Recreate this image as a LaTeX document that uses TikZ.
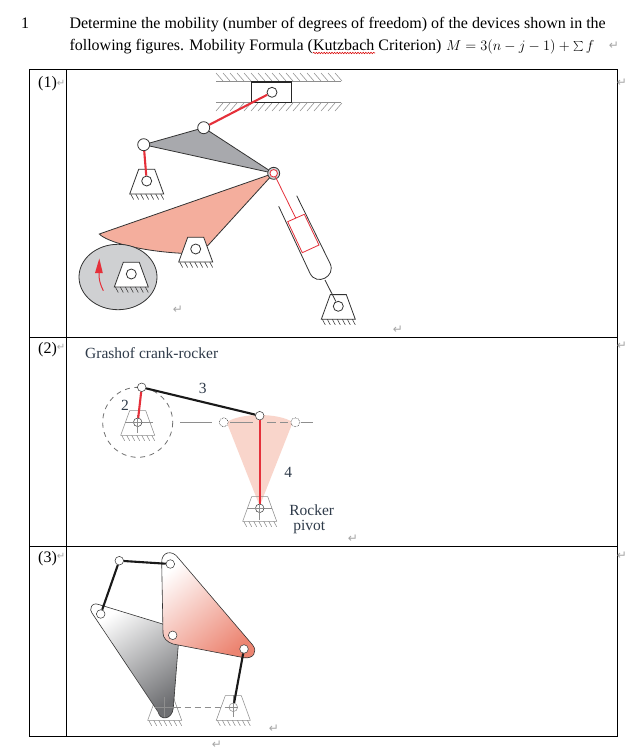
\documentclass[tikz,border=0pt]{standalone}
\usepackage{fontspec}
\setmainfont{Liberation Serif}
\newfontfamily\markfont{DejaVu Sans}
\usetikzlibrary{decorations.pathmorphing}
\definecolor{linkred}{HTML}{E5303A}
\definecolor{plategray}{HTML}{A8A9AD}
\definecolor{platesalmon}{HTML}{F4AE9D}
\definecolor{discgray}{HTML}{CFD0D2}
\definecolor{fanpink}{HTML}{F9D5CB}
\definecolor{ink}{HTML}{333333}
\definecolor{softgray}{HTML}{8E8E8E}
\definecolor{captionink}{HTML}{2F3B4A}
\definecolor{coral}{HTML}{EC8471}
\definecolor{slate}{HTML}{6E6F72}
\tikzset{
  body/.style={font=\fontsize{16}{18}\selectfont,inner sep=0pt,anchor=base west},
  formula/.style={font=\fontsize{15.3}{18}\selectfont,inner sep=0pt,anchor=base west},
  caption/.style={font=\fontsize{15.5}{17}\selectfont,inner sep=0pt,text=captionink},
  parmark/.style={font=\markfont\fontsize{12}{13}\selectfont,inner sep=0pt,text=gray!70},
  parmarksmall/.style={font=\markfont\fontsize{10}{11}\selectfont,inner sep=0pt,text=gray!70},
  cell/.style={draw=black,line width=0.9pt},
  pinA/.style={circle,draw=ink,fill=white,line width=0.8pt,minimum size=10pt,inner sep=0pt},
  jointA/.style={circle,draw=ink,fill=white,line width=0.8pt,minimum size=12pt,inner sep=0pt},
  jointB/.style={circle,draw=ink,fill=white,line width=0.5pt,minimum size=8.6pt,inner sep=0pt},
  jointC/.style={circle,draw=softgray,fill=white,line width=0.5pt,minimum size=8.6pt,inner sep=0pt},
  ghost/.style={circle,draw=ink,densely dotted,fill=white,line width=0.6pt,minimum size=9pt,inner sep=0pt},
  redlink/.style={draw=linkred,line width=2.1pt},
  blacklink/.style={draw=black!90,line width=2.1pt},
  thinred/.style={draw=linkred,line width=0.8pt},
  centerline/.style={draw=softgray,line width=0.6pt},
}
% pivot: name, x, y of pin; trapezoid style; pin style
\newcommand{\pivotbase}[5]{%
  \draw[#4] ({#2-8},{#3-11.7}) -- ({#2+8},{#3-11.7}) -- ({#2+17},{#3+13}) -- ({#2-17},{#3+13}) -- cycle;
  \foreach \hx in {-16,-11,...,14}{\draw[#4,line width=0.55pt] ({#2+\hx},{#3+13}) -- ({#2+\hx+3},{#3+18.5});}
  \node[#5] (#1) at (#2,#3) {};
}
\newcommand{\crosspin}[1]{%
  \draw[softgray,line width=0.5pt] ([xshift=-4.3pt]#1.center) -- ([xshift=4.3pt]#1.center) ([yshift=-4.3pt]#1.center) -- ([yshift=4.3pt]#1.center);
}
\begin{document}
\begin{tikzpicture}[x=1pt,y=-1pt]
\useasboundingbox (0,0) rectangle (629,753);
\fill[white] (0,0) rectangle (629,753);
% heading
\node[body] (num) at (21,28) {1};
\node[body] (l1) at (69.3,28) {Determine the mobility (number of degrees of freedom) of the devices shown in the};
\node[body] (l2) at (69.3,50) {following figures. Mobility Formula (Kutzbach Criterion)};
\node[formula] (l2m) at (446,50) {$M=3(n-j-1)+\sum f$};
\draw[red!85!black,line width=0.55pt,decorate,decoration={snake,amplitude=0.7pt,segment length=2.6pt}] (313,53) -- (375,53);
\node[parmark] (m0) at (614,46) {↵};
% table
\draw[cell] (29,69) rectangle (617,736);
\draw[cell] (66,69) -- (66,736);
\draw[cell] (29,337) -- (617,337);
\draw[cell] (29,546) -- (617,546);
\node[body] (c1) at (38,87) {(1)};
\node[body] (c2) at (38,353) {(2)};
\node[body] (c3) at (38,562) {(3)};
\node[parmarksmall] (m1) at (61,83) {↵};
\node[parmarksmall] (m2) at (61,347) {↵};
\node[parmarksmall] (m3) at (61,556) {↵};
\node[parmark] (m4) at (622,83) {↵};
\node[parmark] (m5) at (622,346) {↵};
\node[parmark] (m6) at (622,556) {↵};
\node[parmark] (m7) at (178,310) {↵};
\node[parmark] (m8) at (398,330) {↵};
\node[parmark] (m9) at (353,539) {↵};
\node[parmark] (m10) at (274,729) {↵};
\node[parmark] (m11) at (217,745) {↵};

% ---------- figure 1 ----------
\draw[softgray,line width=0.8pt] (216,81.5) -- (341,81.5);
\draw[softgray,line width=0.8pt] (216,102.7) -- (341,102.7);
\foreach \hx in {216,223,...,335}{
  \draw[softgray,line width=0.55pt] (\hx,73) -- (\hx+7,81);
  \draw[softgray,line width=0.55pt] (\hx+7,103) -- (\hx,111);
}
\draw[black!85,line width=1.1pt,fill=white] (251.7,82) rectangle (291.3,102.3);
% plates
\coordinate (Bc) at (203.7,127.7);
\coordinate (Ac) at (143.7,144.7);
\coordinate (Cc) at (273.7,173.3);
\draw[ink,line width=0.8pt,fill=plategray] (Ac) -- (Bc) -- (Cc) -- cycle;
\draw[ink,line width=0.8pt,fill=platesalmon] (99.3,234) -- (Cc) -- (207.7,245.7) -- (181.7,253.3) .. controls (140,251) and (107,242) .. (99.3,234) -- cycle;
\draw[ink,line width=0.8pt,fill=discgray] (118,277) ellipse [x radius=39,y radius=32.7];
% pivots
\pivotbase{p1}{146.7}{181}{draw=ink,fill=white,line width=0.8pt}{pinA}
\pivotbase{p2}{195.7}{249}{draw=ink,fill=white,line width=0.8pt}{pinA}
\pivotbase{p3}{131.3}{274}{draw=ink,fill=white,line width=0.8pt}{pinA}
\pivotbase{p4}{338.3}{306.3}{draw=ink,fill=white,line width=0.8pt}{pinA}
\node[pinA] (slider) at (272,92.3) {};
\node[jointA] (jB) at (Bc) {};
\node[jointA] (jA) at (Ac) {};
\node[jointA,fill=discgray] (jC) at (Cc) {};
\node[circle,draw=linkred,fill=white,line width=0.8pt,minimum size=7.5pt,inner sep=0pt] (jCi) at (Cc) {};
\draw[redlink] (jB) -- (slider);
\draw[redlink] (jA) -- (p1);
% cylinder
\coordinate (capL) at (310,273.3);
\coordinate (capR) at (330,263.3);
\coordinate (capB) at (325,280);
\draw[ink,line width=0.8pt] (278.7,206.3) -- (capL) .. controls (316.4,286.5) and (336.4,276.5) .. (capR) -- (296.7,195.7);
\draw[ink,line width=0.8pt] (capB) -- (p4);
\coordinate (pistonTop) at (295.7,218);
\draw[thinred] (jCi) -- (pistonTop);
\draw[thinred] (287.7,221.7) -- (304.3,214.3) -- (319,245) -- (302.3,252.7) -- cycle;
% arrow on disc
\coordinate (arS) at (103.3,290.7);
\coordinate (arE) at (99,273);
\draw[linkred,line width=1pt] (arS) .. controls (100,284) and (98.8,279) .. (arE);
\fill[linkred] (99.3,258.5) -- (102.8,273) -- (95,273) -- cycle;

% ---------- figure 2 ----------
\node[caption,anchor=base west] (gr) at (85,358.5) {Grashof crank-rocker};
\coordinate (fanL) at (226.7,422.3);
\coordinate (fanR) at (292.7,422.3);
\coordinate (fanP) at (259.7,506);
\fill[fanpink] (fanL) .. controls (240,412.6) and (279,412.6) .. (fanR) -- (fanP) -- cycle;
\draw[softgray!80!black,line width=0.8pt,dash pattern=on 5pt off 4.5pt] (137.7,422.3) circle [radius=35];
\draw[centerline] (125,422.3) -- (153,422.3) (180,422.3) -- (212,422.3) (230,422.3) -- (253,422.3) (267,422.3) -- (276,422.3) (280,422.3) -- (288,422.3) (301,422.3) -- (313.3,422.3);
\draw[centerline] (137.7,415) -- (137.7,433) (259.7,498) -- (259.7,520) (247,508.3) -- (272,508.3);
\pivotbase{q1}{137.7}{422.3}{draw=softgray,line width=0.55pt}{jointB}
\pivotbase{q2}{259.7}{508.3}{draw=softgray,line width=0.55pt}{jointB}
\crosspin{q1}
\crosspin{q2}
\node[jointB] (qA) at (141.7,387.3) {};
\node[jointB] (qB) at (259.7,415.7) {};
\node[ghost] (g1) at (223.7,422.3) {};
\node[ghost] (g2) at (295.3,422.3) {};
\draw[redlink] (q1) -- (qA);
\draw[redlink] (q2) -- (qB);
\draw[blacklink] (qA) -- (qB);
\node[caption] (n3) at (202.7,388.7) {3};
\node[caption] (n2) at (125,405.7) {2};
\node[caption] (n4) at (288.3,472.7) {4};
\node[caption] (r1) at (311.7,510) {Rocker};
\node[caption] (r2) at (309.3,526.7) {pivot};

% ---------- figure 3 ----------
\draw[softgray,line width=0.6pt,dash pattern=on 6pt off 4pt] (164.7,707.3) -- (233.3,707.3);
\pivotbase{s1}{164.7}{707.3}{draw=softgray,line width=0.55pt}{jointC}
\pivotbase{s2}{233.3}{707.3}{draw=softgray,line width=0.55pt}{jointC}
\draw[softgray,line width=0.5pt] (233.3,695) -- (233.3,717);
\shade[top color=white,bottom color=slate,shading angle=35] (90.7,610) .. controls (90.7,604) and (95,603) .. (98.7,604.5) -- (162.7,624) -- (178.3,645) -- (173.3,708) .. controls (172,720) and (160,721) .. (158.3,711.7) -- (92,613) -- cycle;
\draw[ink,line width=0.6pt] (90.7,610) .. controls (90.7,604) and (95,603) .. (98.7,604.5) -- (162.7,624) -- (178.3,645) -- (173.3,708) .. controls (172,720) and (160,721) .. (158,711.7) -- (92,613) .. controls (91,612) and (90.7,611) .. (90.7,610) -- cycle;
\draw[softgray,line width=0.5pt] (164.7,697) -- (164.7,717) (155,707.3) -- (175,707.3);
\crosspin{s2}
\shade[top color=white,bottom color=coral,shading angle=40] (161.7,563) .. controls (161,552) and (172,549) .. (178.3,558) -- (252.7,645) .. controls (258,652) and (253,659) .. (244,657.7) -- (173,644) .. controls (167,642) and (163,638) .. (163,633) -- cycle;
\draw[ink,line width=0.6pt] (161.7,563) .. controls (161,552) and (172,549) .. (178.3,558) -- (252.7,645) .. controls (258,652) and (253,659) .. (244,657.7) -- (173,644) .. controls (167,642) and (163,638) .. (163,633) -- cycle;
\node[jointC,draw=ink] (t1) at (119.3,560.7) {};
\node[jointC,draw=ink] (t2) at (170.3,564) {};
\node[jointC,draw=ink] (t3) at (172.7,635.3) {};
\node[jointC,draw=ink] (t4) at (244,649) {};
\node[jointC,draw=ink] (t5) at (100.7,614) {};
\crosspin{s1}
\draw[blacklink] (t1) -- (t2);
\draw[blacklink] (t1) -- (t5);
\draw[blacklink] (t4) -- (s2);
\end{tikzpicture}
\end{document}
